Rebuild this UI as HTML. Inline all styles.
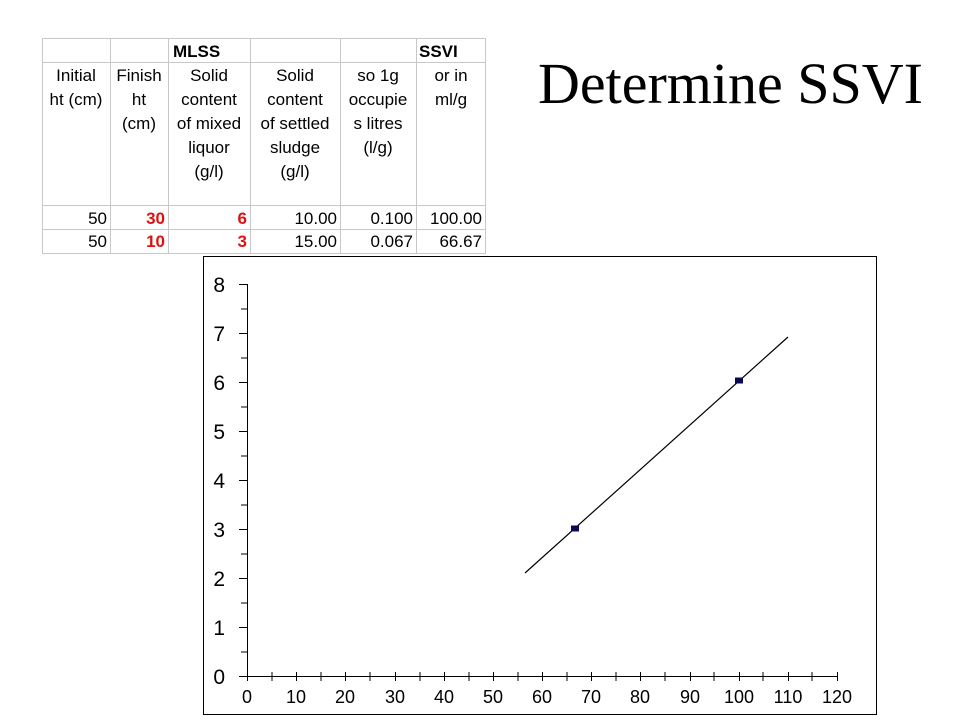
<!DOCTYPE html>
<html><head><meta charset="utf-8"><style>
body{margin:0;background:#fff;width:960px;height:720px;overflow:hidden}
svg{position:absolute;left:0;top:0}
text{font-family:"Liberation Sans",Arial,sans-serif;font-size:17px;fill:#000}
</style></head><body>
<svg width="960" height="720" viewBox="0 0 960 720">
<g stroke="#c8c8c8" stroke-width="1" fill="none">
<line x1="42" y1="38.5" x2="486" y2="38.5"/>
<line x1="42" y1="62.5" x2="486" y2="62.5"/>
<line x1="42" y1="205.5" x2="486" y2="205.5"/>
<line x1="42" y1="229.5" x2="486" y2="229.5"/>
<line x1="42" y1="253.5" x2="486" y2="253.5"/>
<line x1="42.5" y1="38" x2="42.5" y2="254"/>
<line x1="110.5" y1="38" x2="110.5" y2="254"/>
<line x1="168.5" y1="38" x2="168.5" y2="254"/>
<line x1="250.5" y1="38" x2="250.5" y2="254"/>
<line x1="340.5" y1="38" x2="340.5" y2="254"/>
<line x1="416.5" y1="38" x2="416.5" y2="254"/>
<line x1="485.5" y1="38" x2="485.5" y2="254"/>
</g>
<text x="173" y="57" font-weight="bold">MLSS</text>
<text x="419" y="57" font-weight="bold">SSVI</text>
<g text-anchor="middle">
<text x="76" y="81">Initial</text><text x="76" y="105">ht (cm)</text>
<text x="139" y="81">Finish</text><text x="139" y="105">ht</text><text x="139" y="129">(cm)</text>
<text x="209" y="81">Solid</text><text x="209" y="105">content</text><text x="209" y="129">of mixed</text><text x="209" y="153">liquor</text><text x="209" y="177">(g/l)</text>
<text x="295" y="81">Solid</text><text x="295" y="105">content</text><text x="295" y="129">of settled</text><text x="295" y="153">sludge</text><text x="295" y="177">(g/l)</text>
<text x="378" y="81">so 1g</text><text x="378" y="105">occupie</text><text x="378" y="129">s litres</text><text x="378" y="153">(l/g)</text>
<text x="451" y="81">or in</text><text x="451" y="105">ml/g</text>
</g>
<g text-anchor="end">
<text x="107" y="224">50</text><text x="165" y="224" font-weight="bold" style="fill:#e01010">30</text><text x="247" y="224" font-weight="bold" style="fill:#e01010">6</text><text x="337" y="224">10.00</text><text x="413" y="224">0.100</text><text x="482" y="224">100.00</text>
<text x="107" y="247">50</text><text x="165" y="247" font-weight="bold" style="fill:#e01010">10</text><text x="247" y="247" font-weight="bold" style="fill:#e01010">3</text><text x="337" y="247">15.00</text><text x="413" y="247">0.067</text><text x="482" y="247">66.67</text>
</g>
<text x="538" y="103" style="font-family:'Liberation Serif',serif;font-size:58px">Determine SSVI</text>

<rect x="203.5" y="256.5" width="673" height="458" fill="none" stroke="#000" stroke-width="1"/>
<g stroke="#000" stroke-width="1">
<line x1="247.5" y1="284" x2="247.5" y2="676"/>
<line x1="247" y1="676.5" x2="837" y2="676.5"/>
<line x1="239" y1="284.5" x2="248" y2="284.5"/><line x1="241" y1="309" x2="248" y2="309"/>
<line x1="239" y1="333.5" x2="248" y2="333.5"/><line x1="241" y1="358" x2="248" y2="358"/>
<line x1="239" y1="382.5" x2="248" y2="382.5"/><line x1="241" y1="407" x2="248" y2="407"/>
<line x1="239" y1="431.5" x2="248" y2="431.5"/><line x1="241" y1="456" x2="248" y2="456"/>
<line x1="239" y1="480.5" x2="248" y2="480.5"/><line x1="241" y1="505" x2="248" y2="505"/>
<line x1="239" y1="529.5" x2="248" y2="529.5"/><line x1="241" y1="554" x2="248" y2="554"/>
<line x1="239" y1="578.5" x2="248" y2="578.5"/><line x1="241" y1="603" x2="248" y2="603"/>
<line x1="239" y1="627.5" x2="248" y2="627.5"/><line x1="241" y1="652" x2="248" y2="652"/>
<line x1="239" y1="676.5" x2="248" y2="676.5"/>
</g>
<g text-anchor="end">
<text x="225" y="292" style="font-size:21px">8</text><text x="225" y="341" style="font-size:21px">7</text>
<text x="225" y="390" style="font-size:21px">6</text><text x="225" y="439" style="font-size:21px">5</text>
<text x="225" y="488" style="font-size:21px">4</text><text x="225" y="537" style="font-size:21px">3</text>
<text x="225" y="586" style="font-size:21px">2</text><text x="225" y="635" style="font-size:21px">1</text>
<text x="225" y="684" style="font-size:21px">0</text>
</g>
<g text-anchor="middle">
<text x="247" y="703" style="font-size:18px">0</text><text x="296" y="703" style="font-size:18px">10</text>
<text x="345" y="703" style="font-size:18px">20</text><text x="395" y="703" style="font-size:18px">30</text>
<text x="444" y="703" style="font-size:18px">40</text><text x="493" y="703" style="font-size:18px">50</text>
<text x="542" y="703" style="font-size:18px">60</text><text x="591" y="703" style="font-size:18px">70</text>
<text x="640" y="703" style="font-size:18px">80</text><text x="690" y="703" style="font-size:18px">90</text>
<text x="739" y="703" style="font-size:18px">100</text><text x="788" y="703" style="font-size:18px">110</text>
<text x="837" y="703" style="font-size:18px">120</text>
</g>
<g stroke="#000" stroke-width="1">
<line x1="247.5" y1="672" x2="247.5" y2="681"/><line x1="272" y1="672" x2="272" y2="681"/>
<line x1="296.5" y1="672" x2="296.5" y2="681"/><line x1="321" y1="672" x2="321" y2="681"/>
<line x1="345.5" y1="672" x2="345.5" y2="681"/><line x1="370" y1="672" x2="370" y2="681"/>
<line x1="395.5" y1="672" x2="395.5" y2="681"/><line x1="420" y1="672" x2="420" y2="681"/>
<line x1="444.5" y1="672" x2="444.5" y2="681"/><line x1="469" y1="672" x2="469" y2="681"/>
<line x1="493.5" y1="672" x2="493.5" y2="681"/><line x1="518" y1="672" x2="518" y2="681"/>
<line x1="542.5" y1="672" x2="542.5" y2="681"/><line x1="567" y1="672" x2="567" y2="681"/>
<line x1="591.5" y1="672" x2="591.5" y2="681"/><line x1="616" y1="672" x2="616" y2="681"/>
<line x1="640.5" y1="672" x2="640.5" y2="681"/><line x1="665" y1="672" x2="665" y2="681"/>
<line x1="690.5" y1="672" x2="690.5" y2="681"/><line x1="714" y1="672" x2="714" y2="681"/>
<line x1="739.5" y1="672" x2="739.5" y2="681"/><line x1="763" y1="672" x2="763" y2="681"/>
<line x1="788.5" y1="672" x2="788.5" y2="681"/><line x1="812" y1="672" x2="812" y2="681"/>
<line x1="837.5" y1="672" x2="837.5" y2="681"/>
</g>
<line x1="525" y1="573" x2="788" y2="337" stroke="#000" stroke-width="1.2"/>
<rect x="571" y="525.5" width="8" height="6" fill="#0a0a50"/>
<rect x="735" y="377.5" width="8" height="6" fill="#0a0a50"/>
</svg>
</body></html>
